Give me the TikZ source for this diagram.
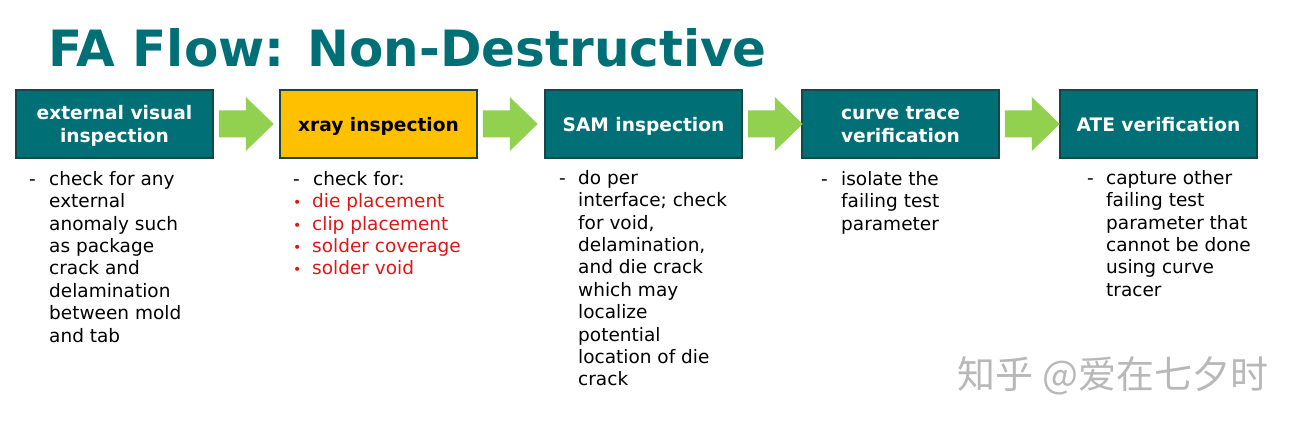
\documentclass[tikz,border=0pt]{standalone}
\usepackage{fontspec}
\setmainfont{DejaVu Sans}
\newfontfamily\cjkfont{Noto Sans CJK SC}
\usetikzlibrary{calc,positioning}
\definecolor{fateal}{RGB}{0,112,118}
\definecolor{faedge}{RGB}{24,70,72}
\definecolor{fayellow}{RGB}{255,192,0}
\definecolor{fagreen}{RGB}{146,208,80}
\definecolor{fared}{RGB}{224,22,22}
\newcommand\leadin[2][20pt]{\makebox[#1][l]{#2}}
\newcommand\redpt[1]{\leadin[19pt]{\textcolor{fared}{\fontsize{14}{14}\selectfont•}}\textcolor{fared}{#1}}

\begin{document}
\begin{tikzpicture}[
    x=1pt, y=-1pt,
    stage/.style={draw=faedge, line width=1.5pt, fill=fateal, text=white, minimum width=197pt, minimum height=68pt, inner sep=0pt, text depth=0pt, align=center, font=\fontsize{18.6}{23}\selectfont\bfseries},
    hot/.style={stage, fill=fayellow, text=black},
    note/.style={anchor=north west, inner sep=0pt, align=left, font=\fontsize{18.5}{22.4}\selectfont, execute at begin node=\strut}
]
\useasboundingbox (0,0) rectangle (1306,430);
\node[anchor=base west, inner sep=0pt, text=fateal, font=\fontsize{50}{60}\selectfont\bfseries] (title) at (48,67) {FA Flow: Non-Destructive};

\node[stage] (ext) at (114.5,124) {external visual\\inspection};
\node[hot] (xray) at (378.5,124) {xray inspection};
\node[stage] (sam) at (643.5,124) {SAM inspection};
\node[stage] (curve) at (900.5,124) {curve trace\\verification};
\node[stage] (ate) at (1158.5,124) {ATE verification};

% block arrows
\foreach \a in {ext, xray, sam, curve}
  \fill[fagreen] ($(\a.east)+(5,-13.5)$) -- ($(\a.east)+(32,-13.5)$) -- ($(\a.east)+(32,-27)$) -- ($(\a.east)+(60,0)$) -- ($(\a.east)+(32,27)$) -- ($(\a.east)+(32,13.5)$) -- ($(\a.east)+(5,13.5)$) -- cycle;

\node[note] (extnote) at (29,171) {\leadin{-}check for any\\\leadin{}external\\\leadin{}anomaly such\\\leadin{}as package\\\leadin{}crack and\\\leadin{}delamination\\\leadin{}between mold\\\leadin{}and tab};

\node[note] (xraynote) at (293,171) {\leadin{-}check for:\\\redpt{die placement}\\\redpt{clip placement}\\\redpt{solder coverage}\\\redpt{solder void}};

\node[note] (samnote) at (559,170) {\leadin[19pt]{-}do per\\\leadin[19pt]{}interface; check\\\leadin[19pt]{}for void,\\\leadin[19pt]{}delamination,\\\leadin[19pt]{}and die crack\\\leadin[19pt]{}which may\\\leadin[19pt]{}localize\\\leadin[19pt]{}potential\\\leadin[19pt]{}location of die\\\leadin[19pt]{}crack};

\node[note] (curvenote) at (821,171) {\leadin{-}isolate the\\\leadin{}failing test\\\leadin{}parameter};

\node[note] (atenote) at (1087,170) {\leadin[19pt]{-}capture other\\\leadin[19pt]{}failing test\\\leadin[19pt]{}parameter that\\\leadin[19pt]{}cannot be done\\\leadin[19pt]{}using curve\\\leadin[19pt]{}tracer};

\node[inner sep=0pt, text=black!28, font=\cjkfont\fontsize{38}{40}\selectfont] (sign) at (1113,376) {知乎 @爱在七夕时};
\end{tikzpicture}
\end{document}
